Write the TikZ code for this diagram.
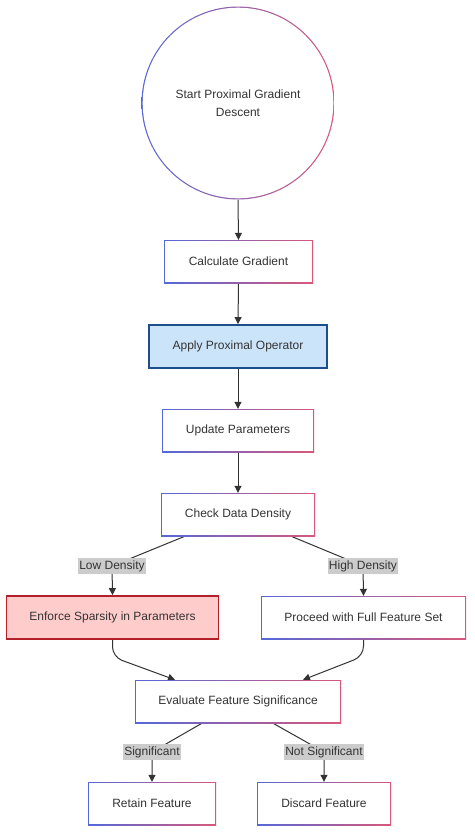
\documentclass[tikz,border=0pt]{standalone}
\usepackage{fontspec}
\setmainfont{Liberation Sans}
\usetikzlibrary{arrows.meta,backgrounds}
\definecolor{gb}{HTML}{5468D8}
\definecolor{gr}{HTML}{D8587A}
\definecolor{txt}{HTML}{333333}
\definecolor{lblbg}{HTML}{CCCCCC}
\definecolor{apfill}{HTML}{CCE4FA}
\definecolor{apdraw}{HTML}{1C4F8C}
\definecolor{enfill}{HTML}{FFCCCC}
\definecolor{endraw}{HTML}{B3202A}
\pgfdeclarehorizontalshading{gbr}{100bp}{color(0bp)=(gb); color(25bp)=(gb); color(75bp)=(gr); color(100bp)=(gr)}
\begin{document}
\begin{tikzpicture}[x=1pt,y=-1pt, font=\fontsize{12}{15}\selectfont, text=txt,
  box/.style={rectangle, minimum height=43pt, inner sep=0pt, align=center},
  gbox/.style={box, fill=white, path picture={
      \shade[shading=gbr, shading angle=0] (path picture bounding box.south west) rectangle (path picture bounding box.north east);
      \fill[white] ([shift={(1.2pt,1.2pt)}]path picture bounding box.south west) rectangle ([shift={(-1.2pt,-1.2pt)}]path picture bounding box.north east);}},
  lbl/.style={fill=lblbg, inner xsep=1pt, inner ysep=2.5pt, text=txt},
  arr/.style={draw=txt, line width=1pt, -{Triangle[length=7pt,width=7pt]}}]
\useasboundingbox (0,0) rectangle (474,835);

\node[circle, minimum size=193pt, inner sep=0pt, fill=white, align=center,
  path picture={\shade[shading=gbr, shading angle=0] (path picture bounding box.south west) rectangle (path picture bounding box.north east);
  \fill[white] (path picture bounding box.center) circle (95.3pt);}] (start) at (238,103) {Start Proximal Gradient\\[3pt]Descent};

\node[gbox, minimum width=149pt] (calc) at (238.5,261.5) {Calculate Gradient};
\node[box, minimum width=178pt, fill=apfill, draw=apdraw, line width=1.8pt] (prox) at (238,346.5) {Apply Proximal Operator};
\node[gbox, minimum width=152pt] (upd) at (238,430.5) {Update Parameters};
\node[gbox, minimum width=154pt] (chk) at (238,514.5) {Check Data Density};
\node[box, minimum width=212pt, fill=enfill, draw=endraw, line width=1.8pt] (enf) at (112.5,617.5) {Enforce Sparsity in Parameters};
\node[gbox, minimum width=205pt] (full) at (363.5,617.5) {Proceed with Full Feature Set};
\node[gbox, minimum width=206pt] (eval) at (238,701.5) {Evaluate Feature Significance};
\node[gbox, minimum width=128pt] (ret) at (152,803.5) {Retain Feature};
\node[gbox, minimum width=134pt] (disc) at (324,803.5) {Discard Feature};

\node[lbl] (lowl) at (112,566) {Low Density};
\node[lbl] (highl) at (363,566) {High Density};
\node[lbl] (sig) at (152,752) {Significant};
\node[lbl] (nsig) at (324,752) {Not Significant};

\begin{pgfonlayer}{background}
\fill[white] (0,0) rectangle (474,835);
\draw[arr] (start.south) -- (calc.north);
\draw[arr] (calc.south) -- (prox.north);
\draw[arr] (prox.south) -- (upd.north);
\draw[arr] (upd.south) -- (chk.north);
\draw[arr] ([xshift=-53pt]chk.south) -- (lowl.center) -- (enf.north);
\draw[arr] ([xshift=53pt]chk.south) -- (highl.center) -- (full.north);
\draw[arr, rounded corners=10pt] (enf.south) -- ++(0,17) -- ([xshift=-63pt]eval.north);
\draw[arr, rounded corners=10pt] (full.south) -- ++(0,17) -- ([xshift=65pt]eval.north);
\draw[arr] ([xshift=-36pt]eval.south) -- (sig.center) -- (ret.north);
\draw[arr] ([xshift=35pt]eval.south) -- (nsig.center) -- (disc.north);
\end{pgfonlayer}
\end{tikzpicture}
\end{document}
